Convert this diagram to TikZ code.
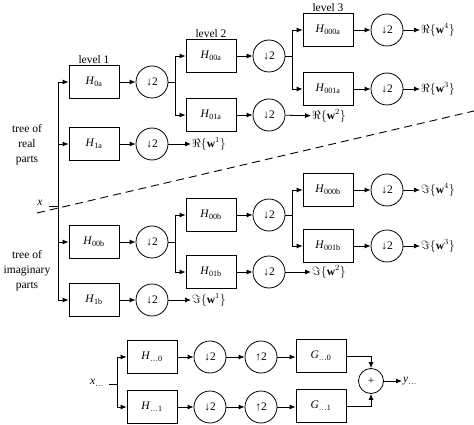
\documentclass[tikz,border=0pt]{standalone}
\usepackage{fontspec}
\setmainfont{Liberation Serif}
\usetikzlibrary{arrows.meta}
\newcommand\flt[2]{\textit{#1}\textsubscript{#2}}
\begin{document}
\begin{tikzpicture}[x=1pt,y=-1pt,
  every node/.style={font=\fontsize{11.5}{13}\selectfont},
  filt/.style={draw, line width=0.8pt, minimum width=50pt, minimum height=33pt, inner sep=0pt},
  samp/.style={draw, circle, line width=0.8pt, minimum size=32pt, inner sep=0pt},
  addc/.style={draw, circle, line width=0.8pt, minimum size=25pt, inner sep=0pt},
  conn/.style={line width=0.8pt},
  arr/.style={line width=0.8pt, -{Latex[length=6pt,width=5pt]}},
  outl/.style={anchor=west, inner sep=1pt},
  lvl/.style={anchor=south, inner sep=1.5pt},
  side/.style={align=center, inner sep=0pt, font=\fontsize{11.5}{15}\selectfont}
]
\useasboundingbox (0,0) rectangle (474,425);

% ---------- side labels ----------
\node[side] (treal) at (27,145) {tree of\\real\\parts};
\node[side] (timag) at (27,271) {tree of\\imaginary\\parts};

% ---------- root ----------
\node[inner sep=1pt] (x) at (40,203) {\textit{x}};
\coordinate (xs) at (49,206);
\coordinate (xb) at (58,206);
\coordinate (rt) at (58,82);
\coordinate (rb) at (58,300);

% ---------- real tree ----------
\node[filt] (h0a) at (94,82) {\flt{H}{0a}};
\node[lvl] (l1) at (h0a.north) {level 1};
\node[samp] (d0a) at (152,82) {↓2};
\node[filt] (h1a) at (94,144) {\flt{H}{1a}};
\node[samp] (d1a) at (152,144) {↓2};
\node[outl] (w1a) at (191,144) {$\Re\{\mathbf{w}^1\}$};

\coordinate (b0a) at (175,82);
\node[filt] (h00a) at (211,56) {\flt{H}{00a}};
\node[lvl] (l2) at (h00a.north) {level 2};
\node[samp] (d00a) at (269,56) {↓2};
\node[filt] (h01a) at (211,115) {\flt{H}{01a}};
\node[samp] (d01a) at (269,115) {↓2};
\node[outl] (w2a) at (311,116) {$\Re\{\mathbf{w}^2\}$};

\coordinate (b00a) at (292,56);
\node[filt] (h000a) at (328,30) {\flt{H}{000a}};
\node[lvl] (l3) at (h000a.north) {level 3};
\node[samp] (d000a) at (387,30) {↓2};
\node[outl] (w4a) at (420,30) {$\Re\{\mathbf{w}^4\}$};
\node[filt] (h001a) at (328,89) {\flt{H}{001a}};
\node[samp] (d001a) at (387,89) {↓2};
\node[outl] (w3a) at (420,89) {$\Re\{\mathbf{w}^3\}$};

% ---------- imaginary tree ----------
\node[filt] (h0b) at (94,242) {\flt{H}{00b}};
\node[samp] (d0b) at (152,242) {↓2};
\node[filt] (h1b) at (94,300) {\flt{H}{1b}};
\node[samp] (d1b) at (152,300) {↓2};
\node[outl] (w1b) at (191,300) {$\Im\{\mathbf{w}^1\}$};

\coordinate (b0b) at (175,242);
\node[filt] (h00b) at (211,215) {\flt{H}{00b}};
\node[samp] (d00b) at (269,215) {↓2};
\node[filt] (h01b) at (211,272) {\flt{H}{01b}};
\node[samp] (d01b) at (269,272) {↓2};
\node[outl] (w2b) at (311,272) {$\Im\{\mathbf{w}^2\}$};

\coordinate (b00b) at (292,215);
\node[filt] (h000b) at (328,190) {\flt{H}{000b}};
\node[samp] (d000b) at (387,190) {↓2};
\node[outl] (w4b) at (420,190) {$\Im\{\mathbf{w}^4\}$};
\node[filt] (h001b) at (328,246) {\flt{H}{001b}};
\node[samp] (d001b) at (387,246) {↓2};
\node[outl] (w3b) at (420,246) {$\Im\{\mathbf{w}^3\}$};

% ---------- connectors (trees) ----------
\draw[conn] (xs) -- (xb);
\draw[conn] (rt) -- (rb);
\draw[arr] (rt) -- (h0a.west);
\draw[arr] (h1a.west -| rt) -- (h1a.west);
\draw[arr] (h0b.west -| rt) -- (h0b.west);
\draw[arr] (rb) -- (h1b.west);

\draw[arr] (h0a) -- (d0a);
\draw[arr] (h1a) -- (d1a);
\draw[arr] (d1a) -- (w1a);
\draw[conn] (d0a) -- (b0a);
\draw[conn] (b0a |- h00a.west) -- (b0a |- h01a.west);
\draw[arr] (b0a |- h00a.west) -- (h00a.west);
\draw[arr] (b0a |- h01a.west) -- (h01a.west);
\draw[arr] (h00a) -- (d00a);
\draw[arr] (h01a) -- (d01a);
\draw[arr] (d01a) -- (w2a);
\draw[conn] (d00a) -- (b00a);
\draw[conn] (b00a |- h000a.west) -- (b00a |- h001a.west);
\draw[arr] (b00a |- h000a.west) -- (h000a.west);
\draw[arr] (b00a |- h001a.west) -- (h001a.west);
\draw[arr] (h000a) -- (d000a);
\draw[arr] (h001a) -- (d001a);
\draw[arr] (d000a) -- (w4a);
\draw[arr] (d001a) -- (w3a);

\draw[arr] (h0b) -- (d0b);
\draw[arr] (h1b) -- (d1b);
\draw[arr] (d1b) -- (w1b);
\draw[conn] (d0b) -- (b0b);
\draw[conn] (b0b |- h00b.west) -- (b0b |- h01b.west);
\draw[arr] (b0b |- h00b.west) -- (h00b.west);
\draw[arr] (b0b |- h01b.west) -- (h01b.west);
\draw[arr] (h00b) -- (d00b);
\draw[arr] (h01b) -- (d01b);
\draw[arr] (d01b) -- (w2b);
\draw[conn] (d00b) -- (b00b);
\draw[conn] (b00b |- h000b.west) -- (b00b |- h001b.west);
\draw[arr] (b00b |- h000b.west) -- (h000b.west);
\draw[arr] (b00b |- h001b.west) -- (h001b.west);
\draw[arr] (h000b) -- (d000b);
\draw[arr] (h001b) -- (d001b);
\draw[arr] (d000b) -- (w4b);
\draw[arr] (d001b) -- (w3b);

% ---------- dashed separator ----------
\coordinate (ds) at (37,213);
\coordinate (de) at (474,111);
\draw[line width=0.9pt, dash pattern=on 8pt off 5pt] (ds) -- (de);

% ---------- bottom: one stage ----------
\node[inner sep=1pt] (xg) at (97,383) {\textit{x}\textsubscript{\ldots}};
\coordinate (gs) at (109,384);
\coordinate (gb) at (117,384);
\node[filt] (hg0) at (152,357) {\flt{H}{\ldots0}};
\node[filt] (hg1) at (152,407) {\flt{H}{\ldots1}};
\node[samp] (dg0) at (210,357) {↓2};
\node[samp] (dg1) at (210,407) {↓2};
\node[samp] (ug0) at (261,357) {↑2};
\node[samp] (ug1) at (261,407) {↑2};
\node[filt] (gg0) at (321,356) {\flt{G}{\ldots0}};
\node[filt] (gg1) at (321,406) {\flt{G}{\ldots1}};
\node[addc] (plus) at (371,381) {+};
\node[outl] (yg) at (402,381) {\textit{y}\textsubscript{\ldots}};

\draw[conn] (gs) -- (gb);
\draw[conn] (gb |- hg0.west) -- (gb |- hg1.west);
\draw[arr] (gb |- hg0.west) -- (hg0.west);
\draw[arr] (gb |- hg1.west) -- (hg1.west);
\draw[arr] (hg0) -- (dg0);
\draw[arr] (hg1) -- (dg1);
\draw[arr] (dg0) -- (ug0);
\draw[arr] (dg1) -- (ug1);
\draw[arr] (ug0) -- (ug0 -| gg0.west);
\draw[arr] (ug1) -- (ug1 -| gg1.west);
\draw[arr] (gg0.east) -| (plus.north);
\draw[arr] (gg1.east) -| (plus.south);
\draw[arr] (plus) -- (yg);
\end{tikzpicture}
\end{document}
